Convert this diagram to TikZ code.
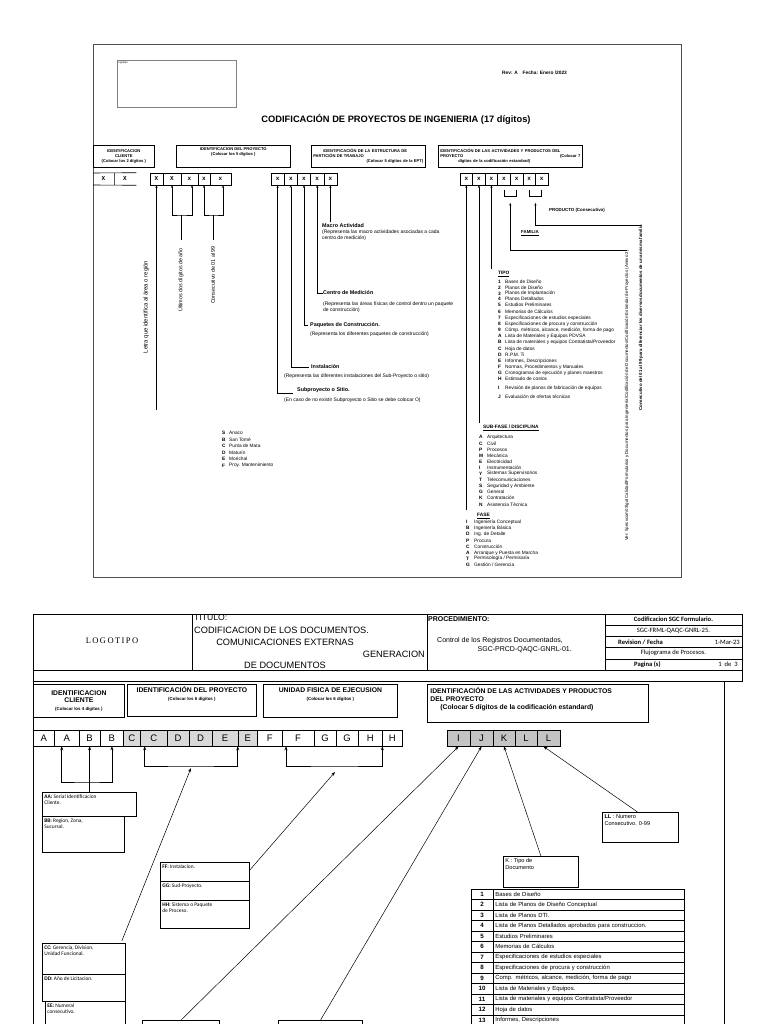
\documentclass[tikz,border=0pt]{standalone}
\usepackage{fontspec}
\setmainfont{Liberation Sans}
\newfontfamily\calfont{Carlito}
\newfontfamily\serfont{Liberation Serif}
\newfontfamily\digfont{Liberation Mono}
\usetikzlibrary{arrows.meta,positioning}
\definecolor{FrameGray}{HTML}{505050}
\definecolor{CellGray}{HTML}{D9D9D9}
\definecolor{CellDark}{HTML}{C4C4C4}

\newcommand{\boxtext}[3]{\parbox[t][#2][t]{#1}{\raggedright #3}}

\begin{document}
\begin{tikzpicture}[x=1pt,y=-1pt,
    framebox/.style={draw=FrameGray, line width=1pt},
    hdrbox/.style={draw, line width=0.6pt, align=center, inner sep=1pt, anchor=north west,
                   minimum height=22, font=\fontsize{4.1}{4.8}\selectfont\bfseries},
    digit/.style={draw, line width=0.6pt, minimum width=12.6, minimum height=12,
                  inner sep=0pt, font=\digfont\fontsize{6}{6}\selectfont\bfseries},
    item/.style={anchor=west, inner sep=0pt, font=\fontsize{4.8}{5.2}\selectfont},
    itemkey/.style={anchor=west, inner sep=0pt, font=\fontsize{4.8}{5.2}\selectfont\bfseries},
    head/.style={anchor=west, inner sep=0pt, font=\fontsize{5.4}{5.8}\selectfont\bfseries},
    note/.style={anchor=west, inner sep=0pt, align=left, font=\fontsize{5}{6}\selectfont},
    vtext/.style={rotate=90, inner sep=0pt, font=\fontsize{5.4}{6}\selectfont},
    wire/.style={line width=0.6pt},
    uptip/.style={-{Stealth[length=2.6pt,width=2.2pt]}, line width=0.6pt},
    twotip/.style={{Stealth[length=2.6pt,width=2.2pt]}-{Stealth[length=2.6pt,width=2.2pt]}, line width=0.6pt},
    formline/.style={line width=0.8pt},
    letter/.style={draw, line width=0.5pt, minimum height=16, inner sep=0pt,
                   font=\fontsize{9.5}{9.5}\selectfont},
    idbox/.style={draw, line width=0.8pt, anchor=north west, align=center, inner sep=1pt,
                  font=\fontsize{6.8}{7.8}\selectfont\bfseries},
    memo/.style={draw, line width=0.8pt, anchor=north west, inner sep=2pt,
                 font=\calfont\fontsize{5.4}{6.4}\selectfont},
    arr/.style={-{Stealth[length=4pt,width=3pt]}, line width=0.5pt},
    twoway/.style={{Stealth[length=4pt,width=3pt]}-{Stealth[length=4pt,width=3pt]}, line width=0.6pt},
  ]
  \fill[white] (0,0) rectangle (768,1024);
  \useasboundingbox (0,0) rectangle (768,1024);

  % ---------------- upper sheet ----------------
  \draw[framebox] (93,45) rectangle (681,577);
  \node[draw=gray, line width=0.5pt, minimum width=119, minimum height=47, anchor=north west] (logo) at (117,60) {};
  \node[anchor=north west, inner sep=1.5pt, font=\fontsize{2.6}{3}\selectfont] (logoTxt) at (logo.north west) {logotipo};
  \node[anchor=west, inner sep=0pt, font=\fontsize{4.8}{5}\selectfont\bfseries] (rev) at (502,73) {Rev: A\quad Fecha: Enero /2023};
  \node[inner sep=0pt, font=\fontsize{9.3}{10}\selectfont\bfseries] (title) at (396,119) {CODIFICACIÓN DE PROYECTOS DE INGENIERIA (17 dígitos)};

  \node[hdrbox, minimum width=61] (hClient) at (93,145) {IDENTIFICACION\\CLIENTE\\(Colocar los 2 dígitos )};
  \node[hdrbox, minimum width=114] (hProj) at (176,145) {IDENTIFICACION DEL PROYECTO\\(Colocar los 5 dígitos )\\[5pt]};
  \node[hdrbox, minimum width=114, text width=110, align=left] (hEpt) at (311,145)
    {\hspace*{10pt}IDENTIFICACIÓN DE LA ESTRUCTURA DE\\PARTICIÓN DE TRABAJO\\\hfill(Colocar 5 dígitos de la EPT)};
  \node[hdrbox, minimum width=144, text width=140, align=left] (hAct) at (438,145)
    {IDENTIFICACIÓN DE LAS ACTIVIDADES Y PRODUCTOS DEL\\PROYECTO\hfill(Colocar 7\\\hspace*{18pt}dígitos de la codificación estandard)};

  % digit cells
  \node[digit, draw=none, minimum width=21] (g1a) at (103.5,179) {X};
  \node[digit, draw=none, minimum width=22] (g1b) at (125,179) {X};
  \draw[wire] (93,173) -- (g1b.north east) (93,185) -- (g1b.south east) (g1a.north east) -- (g1a.south east);
  \foreach \n/\c/\w/\t in {a/156.5/13/X, b/172/18/X, c/189.5/17/x, d/204/12/x, e/220.5/21/x}
    \node[digit, minimum width=\w] (g2\n) at (\c,179) {\t};
  \foreach \n [count=\i from 0] in {a,b,c,d,e}
    \node[digit, minimum width=13.2] (g3\n) at (277.6+13.2*\i,179) {x};
  \foreach \n [count=\i from 0] in {a,b,c,d,e,f,g}
    \node[digit, minimum width=12.57] (g4\n) at (466.3+12.57*\i,179) {x};

  % client / project block
  \coordinate (areaEnd) at (156.5,410);
  \draw[uptip] (areaEnd) -- (g2a.south);
  \coordinate (yrMid) at (181.5,215);
  \coordinate (yrEnd) at (181.5,240);
  \draw[twotip] (g2b.south) |- (yrMid) -| ([xshift=2.5pt]g2c.south);
  \draw[wire] (yrMid) -- (yrEnd);
  \coordinate (cnMid) at (213.5,215);
  \coordinate (cnEnd) at (213.5,240);
  \draw[twotip] (g2d.south) |- (cnMid) -| ([xshift=2.5pt]g2e.south);
  \draw[wire] (cnMid) -- (cnEnd);
  \node[vtext, font=\fontsize{5.9}{6}\selectfont] (areaTxt) at (146,307) {Letra que identifica al área o región};
  \node[vtext] (yrTxt) at (180.5,280) {Últimos dos dígitos de año};
  \node[vtext] (cnTxt) at (213,275) {Consecutivo de 01 al 99};
  \foreach \k/\y/\t [count=\i] in {S/433/Anaco, B/439.5/San Tomé, C/446/Punta de Mata,
      D/452.5/Maturín, E/459/Morichal, F/465.5/Proy. Mantenimiento} {
    \node[itemkey] (zoneK\i) at (222,\y) {\k};
    \node[item] (zoneT\i) at (229,\y) {\t};
  }

  % EPT block
  \node[head] (macro) at (322,226) {Macro Actividad};
  \node[note] (macroD) at (322,235) {(Representa las macro actividades asociadas a cada\\centro de medición)};
  \draw[uptip] ([yshift=1.5pt]macro.north -| g3e.south) -- (g3e.south);
  \node[head] (centro) at (323,293) {Centro de Medición};
  \node[note] (centroD) at (323,307) {(Representa las áreas físicas de control dentro un paquete\\de construcción)};
  \draw[uptip] (centro.west) -| (g3d.south);
  \node[head] (paq) at (310,325) {Paquetes de Construcción.};
  \node[note] (paqD) at (310,334) {(Representa los diferentes paquetes de construcción)};
  \draw[uptip] ([xshift=-2pt]paq.west) -| (g3c.south);
  \node[head] (inst) at (311,367) {Instalación};
  \node[note] (instD) at (284,376) {(Representa las diferentes instalaciones del Sub-Proyecto o sitio)};
  \draw[uptip] ([xshift=-2pt]inst.west) -| (g3b.south);
  \node[head] (subp) at (297,390) {Subproyecto o Sitio.};
  \node[note] (subpD) at (284,400) {(En caso de no existir Subproyecto o Sitio se debe colocar O)};
  \draw[uptip] ([xshift=-4pt,yshift=-3pt]subp.west) -| (g3a.south);

  % activities block
  \node[head, font=\fontsize{4.8}{5.2}\selectfont\bfseries] (tipo) at (498,274) {\underline{TIPO}};
  \node[head, font=\fontsize{4.8}{5.2}\selectfont\bfseries] (subf) at (483,428) {\underline{SUB-FASE / DISCIPLINA}};
  \node[head, font=\fontsize{4.8}{5.2}\selectfont\bfseries] (fase) at (477,516) {\underline{FASE}};
  \draw[uptip] ([yshift=2pt]g4c.south |- tipo.north) -- (g4c.south);
  \draw[uptip] ([yshift=2pt]g4b.south |- subf.north) -- (g4b.south);
  \draw[uptip] ([yshift=3pt]g4a.south |- fase.north) -- (g4a.south);
  \foreach \k/\y/\t [count=\i] in {1/282/Bases de Diseño, 2/288/Planos de Diseño,
      3/293.5/Planos de Implantación, 4/299/Planos Detallados, 5/305/Estudios Preliminares,
      6/312/Memorias de Cálculos, 7/318/Especificaciones de estudios especiales,
      8/324/Especificaciones de procura y construcción,
      9/330/{Cómp. métricos, alcance, medición, forma de pago},
      A/336/Lista de Materiales y Equipos PDVSA,
      B/342/{Lista de materiales y equipos Contratista/Proveedor},
      C/349/Hoja de datos, D/355/R.P.M. Ti, E/361/{Informes, Descripciones},
      F/367/{Normas, Procedimientos y Manuales},
      G/373/Cronogramas de ejecución y planes maestros, H/379/Estimado de costos,
      I/388/Revisión de planos de fabricación de equipos,
      J/397/Evaluación de ofertas técnicas} {
    \node[itemkey] (tipoK\i) at (498,\y) {\k};
    \node[item] (tipoT\i) at (505,\y) {\t};
  }
  \foreach \k/\y/\t [count=\i] in {A/437/Arquitectura, C/443.5/Civil, P/450/Procesos,
      M/456/Mecánica, E/462/Electricidad, I/468/Instrumentación, Y/473.5/Sistemas Supervisorios,
      T/480/Telecomunicaciones, S/486/Seguridad y Ambiente, G/492/General,
      K/498/Contratación, N/504.5/Asistencia Técnica} {
    \node[itemkey] (subfK\i) at (479,\y) {\k};
    \node[item] (subfT\i) at (487,\y) {\t};
  }
  \foreach \k/\y/\t [count=\i] in {I/522/Ingeniería Conceptual, B/528/Ingeniería Básica,
      D/534/Ing. de Detalle, P/540.5/Procura, C/546.5/Construcción,
      A/553/Arranque y Puesta en Marcha, T/558.5/{Permisología / Permisaría},
      G/565/{Gestión / Gerencia}} {
    \node[itemkey] (faseK\i) at (466,\y) {\k};
    \node[item] (faseT\i) at (474,\y) {\t};
  }

  % family / product brackets
  \draw[wire] ([yshift=-5pt]g4d.south) -- ([yshift=-11pt]g4d.south) -- ([yshift=-11pt]g4e.south) -- ([yshift=-5pt]g4e.south);
  \draw[wire] ([yshift=-5pt]g4f.south) -- ([yshift=-11pt]g4f.south) -- ([yshift=-11pt]g4g.south) -- ([yshift=-5pt]g4g.south);
  \coordinate (famTip) at (510.3,203);
  \coordinate (prodTip) at (535.4,203);
  \node[vtext, anchor=east, font=\fontsize{4.4}{5}\selectfont] (verTxt) at (627,250)
    {Ver: \textbackslash\textbackslash pecvcom03\textbackslash gal Calidad\textbackslash Formularios y Documentos para Ingeniería\textbackslash Codificación de Documentos\textbackslash Codificación Estandar de Proyectos (Anexo 2)};
  \node[vtext, anchor=east, font=\fontsize{4.4}{5}\selectfont\bfseries] (consTxt) at (641,225)
    {Consecutivo del 01 al 99 para diferenciar los diversos documentos de una misma familia};
  \draw[uptip] (verTxt.east) -| (famTip);
  \draw[uptip] (consTxt.east) -| (prodTip);
  \node[head, font=\fontsize{4.4}{5}\selectfont\bfseries] (fam) at (521,233) {\underline{FAMILIA}};
  \node[head, font=\fontsize{4.4}{5}\selectfont\bfseries] (prod) at (549,210) {PRODUCTO (Consecutivo)};

  % ---------------- lower form ----------------
  \draw[formline] (33,1024) -- (33,614) -- (742,614) -- (742,681) -- (33,681);
  \draw[formline] (33,670) -- (742,670);
  \draw[formline] (192,614) -- (192,670) (427,614) -- (427,670) (605,614) -- (605,670);
  \draw[formline] (724,681) -- (724,1024);
  \foreach \y in {625.2,636.4,647.6,658.8}
    \draw[line width=0.5pt] (605,\y) -- (742,\y);

  \node[inner sep=0pt, font=\serfont\fontsize{8.5}{9}\selectfont] (logotipo) at (112,641) {L\,O\,G\,O\,T\,I\,P\,O};
  \node[anchor=west, inner sep=0pt, font=\fontsize{8.6}{9}\selectfont] (titulo) at (194,617.5) {TITULO:};
  \node[anchor=west, inner sep=0pt, font=\fontsize{9.2}{10}\selectfont] (tit1) at (194,630) {CODIFICACION DE LOS DOCUMENTOS.};
  \node[inner sep=0pt, font=\fontsize{9.2}{10}\selectfont] (tit2) at (285,642) {COMUNICACIONES EXTERNAS};
  \node[anchor=east, inner sep=0pt, font=\fontsize{9.2}{10}\selectfont] (tit3) at (425,654) {GENERACION};
  \node[inner sep=0pt, font=\fontsize{9.2}{10}\selectfont] (tit4) at (285,665) {DE DOCUMENTOS};
  \node[anchor=west, inner sep=0pt, font=\fontsize{7}{8}\selectfont\bfseries] (proc) at (428,619) {PROCEDIMIENTO:};
  \node[anchor=west, inner sep=0pt, font=\fontsize{7}{8}\selectfont] (proc1) at (437,641) {Control de los Registros Documentados,};
  \node[anchor=east, inner sep=0pt, font=\fontsize{7}{8}\selectfont] (proc2) at (572,650) {SGC-PRCD-QAQC-GNRL-01.};
  \node[inner sep=0pt, font=\calfont\fontsize{6.6}{7}\selectfont\bfseries] (cod1) at (673.5,619.6) {Codificacion SGC Formulario.};
  \node[inner sep=0pt, font=\calfont\fontsize{6.6}{7}\selectfont] (cod2) at (673.5,630.8) {SGC-FRML-QAQC-GNRL-25.};
  \node[anchor=west, inner sep=0pt, font=\calfont\fontsize{6.6}{7}\selectfont\bfseries] (rev1) at (618,642) {Revision / Fecha};
  \node[anchor=east, inner sep=0pt, font=\calfont\fontsize{6.6}{7}\selectfont] (rev2) at (740,642) {1-Mar-23};
  \node[inner sep=0pt, font=\calfont\fontsize{6.6}{7}\selectfont] (flujo) at (673.5,653.2) {Flujograma de Procesos.};
  \node[anchor=west, inner sep=0pt, font=\calfont\fontsize{6.6}{7}\selectfont\bfseries] (pag1) at (634,664.4) {Pagina (s)};
  \node[anchor=east, inner sep=0pt, font=\calfont\fontsize{6.6}{7}\selectfont] (pag2) at (738,664.4) {1\ \ de\ \ 3};

  \node[idbox, minimum width=91, minimum height=33] (bClient) at (33,684)
    {IDENTIFICACION\\CLIENTE\\\fontsize{4.4}{5}\selectfont(Colocar los 4 dígitos )};
  \node[idbox, minimum width=129, minimum height=32] (bProj) at (127,684)
    {IDENTIFICACIÓN DEL PROYECTO\\\fontsize{4.4}{5}\selectfont(Colocar los 6 dígitos )\\[6pt]};
  \node[idbox, minimum width=134, minimum height=33] (bUnit) at (263,684)
    {UNIDAD FISICA DE EJECUSION\\\fontsize{4.4}{5}\selectfont(Colocar los 6 dígitos )\\[6pt]};
  \node[idbox, inner sep=3pt] (bAct) at (427,684)
    {\boxtext{215pt}{32pt}{IDENTIFICACIÓN DE LAS ACTIVIDADES Y PRODUCTOS\\DEL PROYECTO\\\hspace*{10pt}(Colocar 5 dígitos de la codificación estandard)}};

  % letter rows
  \foreach \n/\c/\w/\t/\f in {1/43.8/21.6/A/white, 2/66.75/24.3/A/white, 3/89.65/21.5/B/white,
      4/111.9/23/B/white, 5/131.9/17/C/CellGray, 6/153.7/26.6/C/CellGray, 7/178/22/D/CellGray,
      8/200.5/23/D/CellGray, 9/225/26/E/CellGray, 10/247.8/19.6/E/CellGray, 11/269.8/24.4/F/white,
      12/298/32/F/white, 13/325/22/G/white, 14/347/22/G/white, 15/370.3/24.6/H/white, 16/392.3/19.4/H/white}
    \node[letter, fill=\f, minimum width=\w] (lc\n) at (\c,738) {\t};
  \foreach \n/\c/\w/\t in {1/458.5/23/I, 2/481.5/23/J, 3/504/22/K, 4/526/22/L, 5/548.5/23/L}
    \node[letter, fill=CellDark, line width=0.9pt, minimum width=\w] (rc\n) at (\c,738) {\t};

  % notes
  \node[memo] (aa) at (42,792) {\boxtext{90pt}{20pt}{\textbf{AA:} Serial Identificacion\\Cliente.}};
  \node[memo] (bb) at (42,816) {\boxtext{78pt}{32pt}{\textbf{BB:} Region, Zona,\\Sucursal.}};
  \node[memo] (ff) at (160,862) {\boxtext{85pt}{15pt}{\textbf{FF:} Instalacion.}};
  \node[memo] (gg) at (160,881) {\boxtext{85pt}{15pt}{\textbf{GG:} Sud-Proyecto.}};
  \node[memo] (hh) at (160,900) {\boxtext{85pt}{24pt}{\textbf{HH:} Sistema o Paquete\\de Proceso.}};
  \node[memo] (cc) at (42,943) {\boxtext{79pt}{27pt}{\textbf{CC:} Gerencia, Division,\\Unidad Funcional.}};
  \node[memo] (dd) at (42,974) {\boxtext{79pt}{23pt}{\textbf{DD:} Año de Licitacion.}};
  \node[memo] (ee) at (45,1001) {\boxtext{76pt}{26pt}{\textbf{EE:} Numeral\\consecutivo.}};
  \node[memo, font=\fontsize{5.6}{6.8}\selectfont] (kb) at (503,856) {\boxtext{71pt}{27pt}{K : Tipo de\\Documento}};
  \node[memo, line width=1pt, font=\fontsize{5.6}{6.8}\selectfont] (ll) at (602,812) {\boxtext{72pt}{26pt}{\textbf{LL} : Numero\\Consecutivo. 0-99}};
  \node[draw, line width=1.2pt, anchor=north west, minimum width=77, minimum height=14] (bx1) at (142,1020) {};
  \node[draw, line width=1.2pt, anchor=north west, minimum width=84, minimum height=14] (bx2) at (278,1020) {};

  % document type table
  \foreach \n/\t [evaluate=\n as \ty using 894.25+10.5*(\n-1)] in {1/Bases de Diseño,
      2/Lista de Planos de Diseño Conceptual, 3/Lista de Planos DTI.,
      4/Lista de Planos Detallados aprobados para construccion., 5/Estudios Preliminares,
      6/Memorias de Cálculos, 7/Especificaciones de estudios especiales,
      8/Especificaciones de procura y construcción,
      9/{Comp. métricos, alcance, medición, forma de pago}, 10/Lista de Materiales y Equipos.,
      11/{Lista de materiales y equipos Contratista/Proveedor}, 12/Hoja de datos,
      13/{Informes, Descripciones}} {
    \node[draw, line width=0.7pt, minimum width=22, minimum height=10.5, inner sep=0pt,
          font=\fontsize{6.2}{7}\selectfont\bfseries] (tn\n) at (482,\ty) {\n};
    \node[draw, line width=0.7pt, anchor=west, text width=187, minimum height=10.5, inner sep=2pt,
          font=\fontsize{5.9}{7}\selectfont] (tt\n) at (493,\ty) {\t};
  }

  % connectors
  \coordinate (brA) at (87,782);
  \draw[twoway] ([xshift=-5pt]lc2.south) |- (brA) -| (lc4.south);
  \draw[arr] (aa.north -| lc3.south) -- (lc3.south);
  \coordinate (brC) at (191,766);
  \draw[twoway] ([xshift=-9pt]lc6.south) |- (brC) -| (lc10.south west);
  \draw[arr] ([xshift=-4pt,yshift=2pt]cc.north east) -- ([yshift=-2pt]brC);
  \coordinate (brF) at (335,766);
  \draw[twoway] ([xshift=-12pt]lc12.south) |- (brF) -| (lc16.south west);
  \draw[arr] ([yshift=-8pt]ff.north east) -- ([yshift=-6pt]brF);
  \draw[arr] (bx1.north) -- (rc1.south);
  \draw[arr] (bx2.north) -- (rc2.south);
  \draw[arr] (kb.north) -- (rc3.south);
  \draw[arr] ([xshift=-3pt]ll.north) -- ([xshift=-5pt]rc5.south);
\end{tikzpicture}
\end{document}
